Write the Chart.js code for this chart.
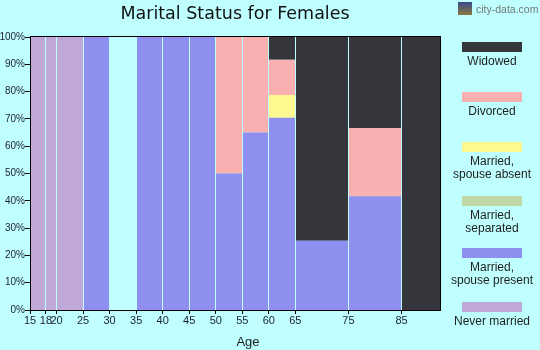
<!DOCTYPE html>
<html lang="en">
<head>
  <meta charset="UTF-8" />
  <title>Marital Status for Females</title>
  <script src="https://cdn.jsdelivr.net/npm/chart.js"></script>
  <style>
    html, body {
      margin: 0;
      padding: 0;
      background: #bfffff;
    }
    .wrap {
      position: relative;
      width: 540px;
      height: 350px;
      font-family: "Liberation Sans", Arial, sans-serif;
      color: #1e1e1e;
    }
    #chart {
      position: absolute;
      left: 0;
      top: 0;
    }
    .title {
      position: absolute;
      left: 0;
      width: 470px;
      top: 3px;
      text-align: center;
      font-family: "DejaVu Sans", sans-serif;
      font-size: 17.5px;
      color: #111;
    }
    .axis-title {
      position: absolute;
      left: 148px;
      width: 200px;
      top: 334px;
      text-align: center;
      font-size: 13px;
    }
    .brand {
      position: absolute;
      left: 458px;
      top: 2px;
      font-size: 10.5px;
      color: #777;
      line-height: 14px;
    }
    .brand i {
      display: inline-block;
      width: 14px;
      height: 13px;
      margin-right: 4px;
      vertical-align: top;
      background: linear-gradient(#3a4a8a, #8a7a40);
    }
    .legend-item {
      position: absolute;
      left: 446px;
      width: 92px;
      text-align: center;
      font-size: 12px;
      line-height: 12.5px;
    }
    .legend-item span {
      display: block;
      width: 60px;
      height: 10px;
      margin: 0 auto 3px auto;
    }
  </style>
</head>
<body>
  <div class="wrap">
    <canvas id="chart" width="540" height="350"></canvas>
    <div class="title">Marital Status for Females</div>
    <div class="axis-title">Age</div>
    <div class="brand"><i></i>city-data.com</div>
    <div id="legend"></div>
  </div>

  <script>
    // age bins (start of each bin), last bin runs to the right edge
    const ageBins = [15, 18, 20, 25, 30, 35, 40, 45, 50, 55, 60, 65, 75, 85];
    const ageMax = 92.25;

    // share of females (%) in each bin, bottom of the stack first
    const neverMarried   = [100, 100, 100, 0, 0, 0, 0, 0, 0, 0, 0, 0, 0, 0];
    const spousePresent  = [0, 0, 0, 100, 0, 100, 100, 100, 50, 65, 70.4, 25.4, 41.7, 0];
    const separated      = [0, 0, 0, 0, 0, 0, 0, 0, 0, 0, 0, 0, 0, 0];
    const spouseAbsent   = [0, 0, 0, 0, 0, 0, 0, 0, 0, 0, 8.4, 0, 0, 0];
    const divorced       = [0, 0, 0, 0, 0, 0, 0, 0, 50, 35, 12.9, 0, 25, 0];
    const widowed        = [0, 0, 0, 0, 0, 0, 0, 0, 0, 0, 8.3, 74.6, 33.3, 100];

    const series = [
      { label: "Never married", values: neverMarried, color: "#c0a8d8", legendTop: 302, text: "Never married" },
      { label: "Married, spouse present", values: spousePresent, color: "#8f8ff0", legendTop: 248, text: "Married,<br>spouse present" },
      { label: "Married, separated", values: separated, color: "#c0d8a4", legendTop: 196, text: "Married,<br>separated" },
      { label: "Married, spouse absent", values: spouseAbsent, color: "#fff890", legendTop: 142, text: "Married,<br>spouse absent" },
      { label: "Divorced", values: divorced, color: "#f8b0b0", legendTop: 92, text: "Divorced" },
      { label: "Widowed", values: widowed, color: "#34363c", legendTop: 42, text: "Widowed" }
    ];

    function toPoints(values) {
      const pts = ageBins.map((x, i) => ({ x: x, y: values[i] }));
      pts.push({ x: ageMax, y: values[values.length - 1] });
      return pts;
    }

    // html legend, top of stack first
    const legend = document.getElementById("legend");
    series.slice().reverse().forEach(s => {
      const div = document.createElement("div");
      div.className = "legend-item";
      div.style.top = s.legendTop + "px";
      div.innerHTML = '<span style="background:' + s.color + '"></span>' + s.text;
      legend.appendChild(div);
    });

    const framePlugin = {
      id: "frame",
      afterDraw(chart) {
        const { ctx, chartArea: a } = chart;
        ctx.save();
        ctx.strokeStyle = "#000";
        ctx.lineWidth = 1;
        ctx.strokeRect(Math.round(a.left) + 0.5, Math.round(a.top) - 0.5,
          Math.round(a.right - a.left), Math.round(a.bottom - a.top) + 1);
        ctx.restore();
      }
    };

    const tickFamily = "'Liberation Sans Narrow', 'Liberation Sans', Arial";

    new Chart(document.getElementById("chart"), {
      type: "line",
      data: {
        datasets: series.map((s, i) => ({
          label: s.label,
          data: toPoints(s.values),
          backgroundColor: s.color,
          borderColor: s.color,
          borderWidth: 0,
          pointRadius: 0,
          stepped: true,
          fill: i === 0 ? "origin" : "-1"
        }))
      },
      options: {
        responsive: false,
        animation: false,
        layout: { padding: { top: 37, right: 100, left: 0, bottom: 0 } },
        plugins: {
          legend: { display: false },
          tooltip: { enabled: false }
        },
        scales: {
          x: {
            type: "linear",
            min: 15,
            max: ageMax,
            afterBuildTicks: scale => {
              scale.ticks = ageBins.map(v => ({ value: v }));
            },
            afterFit: scale => { scale.height = 40; },
            ticks: {
              autoSkip: false,
              maxRotation: 0,
              padding: 0,
              color: "#1e1e33",
              font: { family: tickFamily, size: 11 },
              callback: v => v
            },
            grid: {
              z: 1,
              color: "#bfffff",
              lineWidth: 1,
              tickColor: "#000",
              tickLength: 4
            },
            border: { display: false }
          },
          y: {
            stacked: true,
            min: 0,
            max: 100,
            afterFit: scale => { scale.width = 30; },
            ticks: {
              stepSize: 10,
              padding: 0,
              color: "#1e1e33",
              font: { family: tickFamily, size: 10 },
              callback: v => v + "%"
            },
            grid: {
              drawOnChartArea: false,
              tickColor: "#000",
              tickLength: 5
            },
            border: { display: false }
          }
        }
      },
      plugins: [framePlugin]
    });
  </script>
</body>
</html>
